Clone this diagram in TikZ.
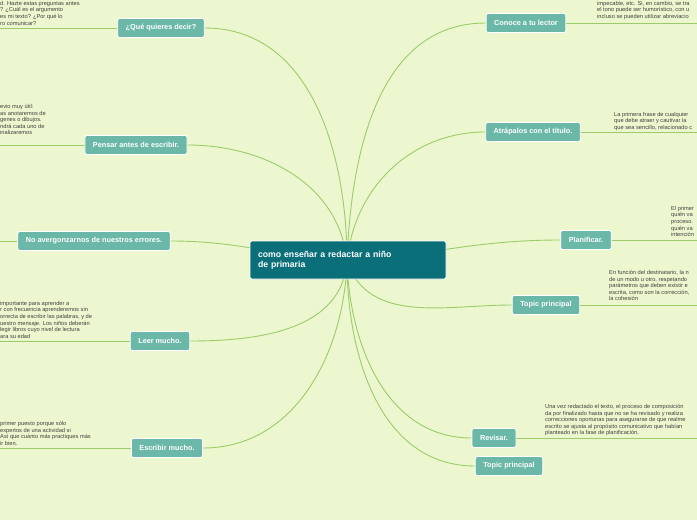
\documentclass[tikz,border=0pt]{standalone}
\usepackage{fontspec}
\setmainfont{Liberation Sans}
\begin{document}
\begin{tikzpicture}[x=1pt,y=-1pt,
  topic/.style={fill=topicc,draw=white,line width=0.8pt,rounded corners=2pt,text=white,font=\bfseries\fontsize{7.3}{8}\selectfont,inner xsep=8pt,minimum height=19pt},
  conn/.style={draw=linec,line width=0.9pt},
  note/.style={font=\fontsize{5.7}{6.6}\selectfont,text=black!75,align=left,inner sep=0pt,anchor=north west}]
\definecolor{bgc}{HTML}{EDF7CF}
\definecolor{topicc}{HTML}{6BB8A8}
\definecolor{mainc}{HTML}{0B6F7A}
\definecolor{linec}{HTML}{9CCB6A}
\fill[bgc] (0,0) rectangle (697,520);
\useasboundingbox (0,0) rectangle (697,520);
\clip (0,0) rectangle (697,520);
\coordinate (hub) at (347,262);
\coordinate (l1) at (0,28); \coordinate (l2) at (0,145); \coordinate (l3) at (0,241);
\coordinate (l4) at (0,341); \coordinate (l5) at (0,448);
\coordinate (r1) at (697,23); \coordinate (r2) at (697,132); \coordinate (r3) at (697,240);
\coordinate (r4) at (697,305); \coordinate (r5) at (697,438);
\node[topic] (q) at (161,28) {¿Qué quieres decir?};
\node[topic] (p) at (136,145) {Pensar antes de escribir.};
\node[topic] (n) at (94,241) {No avergonzarnos de nuestros errores.};
\node[topic] (le) at (160,341) {Leer mucho.};
\node[topic] (e) at (167,448) {Escribir mucho.};
\node[topic] (c) at (526,23) {Conoce a tu lector};
\node[topic] (a) at (533,132) {Atrápalos con el título.};
\node[topic] (pl) at (586,240) {Planificar.};
\node[topic] (t1) at (546,305) {Topic principal};
\node[topic] (rv) at (494,438) {Revisar.};
\node[topic] (t2) at (509,466) {Topic principal};
\draw[conn] (hub) to[out=90,in=0] (q.east);
\draw[conn] (hub) to[out=95,in=0] (p.east);
\draw[conn] (hub) to[out=175,in=0] (n.east);
\draw[conn] (hub) to[out=265,in=0] (le.east);
\draw[conn] (hub) to[out=268,in=0] (e.east);
\draw[conn] (hub) to[out=88,in=180] (c.west);
\draw[conn] (hub) to[out=85,in=180] (a.west);
\draw[conn] (hub) to[out=5,in=180] (pl.west);
\draw[conn] (hub) to[out=290,in=180] (t1.west);
\draw[conn] (hub) to[out=272,in=180] (rv.west);
\draw[conn] (hub) to[out=270,in=180] (t2.west);
\draw[conn] (l1) -- (q.west); \draw[conn] (l2) -- (p.west); \draw[conn] (l3) -- (n.west);
\draw[conn] (l4) -- (le.west); \draw[conn] (l5) -- (e.west);
\draw[conn] (c.east) -- (r1); \draw[conn] (a.east) -- (r2); \draw[conn] (pl.east) -- (r3);
\draw[conn] (t1.east) -- (r4); \draw[conn] (rv.east) -- (r5);
\node[topic] at (q) {¿Qué quieres decir?};
\node[topic] at (p) {Pensar antes de escribir.};
\node[topic] at (n) {No avergonzarnos de nuestros errores.};
\node[topic] at (le) {Leer mucho.};
\node[topic] at (e) {Escribir mucho.};
\node[topic] at (c) {Conoce a tu lector};
\node[topic] at (a) {Atrápalos con el título.};
\node[topic] at (pl) {Planificar.};
\node[topic] at (t1) {Topic principal};
\node[topic] at (rv) {Revisar.};
\node[topic] at (t2) {Topic principal};
\node[fill=mainc,draw=white,line width=0.8pt,rounded corners=2pt,text=white,font=\bfseries\fontsize{8.7}{10.5}\selectfont,align=left,minimum width=196pt,minimum height=38pt,text width=180pt] (m) at (348,260) {como enseñar a redactar a niño\\de primaria};
\node[note] (nq) at (0,1) {d. Hazte estas preguntas antes\\? ¿Cuál es el argumento\\ es mi texto? ¿Por qué lo\\ro comunicar?};
\node[note] (np) at (0,104) {evio muy útil:\\as anotaremos de\\genes o dibujos.\\ndrá cada uno de\\inalizaremos};
\node[note] (nl) at (0,301) {importante para aprender a\\r con frecuencia aprenderemos sin\\orrecta de escribir las palabras, y de\\uestro mensaje. Los niños deberán\\legir libros cuyo nivel de lectura\\ara su edad};
\node[note] (ne) at (0,421) {primer puesto porque sólo\\expertos de una actividad si\\Así que cuánto más practiques más\\ir bien.};
\node[note] (nc) at (597,1) {impecable, etc. Si, en cambio, se tra\\el tono puede ser humorístico, con u\\incluso se pueden utilizar abreviacio};
\node[note] (na) at (614,112) {La primera frase de cualquier\\que debe atraer y cautivar la\\que sea sencillo, relacionado c};
\node[note] (npl) at (671,206) {El primer\\quién va\\proceso.\\quién va\\intención};
\node[note] (nt) at (609,270) {En función del destinatario, la n\\de un modo u otro, respetando\\parámetros que deben existir e\\escrita, como son la corrección,\\la cohesión};
\node[note] (nr) at (545,404) {Una vez redactado el texto, el proceso de composición\\da por finalizado hasta que no se ha revisado y realiza\\correcciones oportunas para asegurarse de que realme\\escrito se ajusta al propósito comunicativo que habían\\planteado en la fase de planificación.};
\end{tikzpicture}
\end{document}
